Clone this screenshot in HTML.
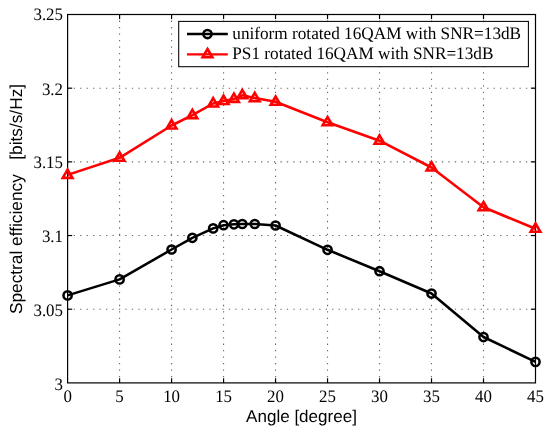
<!DOCTYPE html>
<html><head><meta charset="utf-8"><title>Spectral efficiency vs angle</title>
<style>html,body{margin:0;padding:0;background:#fff;}svg{display:block;text-rendering:geometricPrecision;}
.t{font-family:"Liberation Serif",serif;font-size:17.5px;fill:#000;}
.s{font-family:"Liberation Sans",sans-serif;font-size:17.2px;fill:#000;}
</style></head><body>
<svg width="550" height="432" viewBox="0 0 550 432">
<rect x="0" y="0" width="550" height="432" fill="#fff"/>
<g stroke="#686868" stroke-width="1.1" stroke-dasharray="1.3 5.16" stroke-dashoffset="0.35" fill="none">
<line x1="119.59" y1="14.50" x2="119.59" y2="382.90"/>
<line x1="171.58" y1="14.50" x2="171.58" y2="382.90"/>
<line x1="223.57" y1="14.50" x2="223.57" y2="382.90"/>
<line x1="275.56" y1="14.50" x2="275.56" y2="382.90"/>
<line x1="327.54" y1="14.50" x2="327.54" y2="382.90"/>
<line x1="379.53" y1="14.50" x2="379.53" y2="382.90"/>
<line x1="431.52" y1="14.50" x2="431.52" y2="382.90"/>
<line x1="483.51" y1="14.50" x2="483.51" y2="382.90"/>
<line x1="67.60" y1="309.22" x2="535.50" y2="309.22"/>
<line x1="67.60" y1="235.54" x2="535.50" y2="235.54"/>
<line x1="67.60" y1="161.86" x2="535.50" y2="161.86"/>
<line x1="67.60" y1="88.18" x2="535.50" y2="88.18"/>
</g>
<g stroke="#000" stroke-width="1.2" fill="none">
<rect x="67.60" y="14.50" width="467.90" height="368.40"/>
<line x1="119.59" y1="382.90" x2="119.59" y2="378.30"/>
<line x1="119.59" y1="14.50" x2="119.59" y2="19.10"/>
<line x1="171.58" y1="382.90" x2="171.58" y2="378.30"/>
<line x1="171.58" y1="14.50" x2="171.58" y2="19.10"/>
<line x1="223.57" y1="382.90" x2="223.57" y2="378.30"/>
<line x1="223.57" y1="14.50" x2="223.57" y2="19.10"/>
<line x1="275.56" y1="382.90" x2="275.56" y2="378.30"/>
<line x1="275.56" y1="14.50" x2="275.56" y2="19.10"/>
<line x1="327.54" y1="382.90" x2="327.54" y2="378.30"/>
<line x1="327.54" y1="14.50" x2="327.54" y2="19.10"/>
<line x1="379.53" y1="382.90" x2="379.53" y2="378.30"/>
<line x1="379.53" y1="14.50" x2="379.53" y2="19.10"/>
<line x1="431.52" y1="382.90" x2="431.52" y2="378.30"/>
<line x1="431.52" y1="14.50" x2="431.52" y2="19.10"/>
<line x1="483.51" y1="382.90" x2="483.51" y2="378.30"/>
<line x1="483.51" y1="14.50" x2="483.51" y2="19.10"/>
<line x1="67.60" y1="309.22" x2="72.20" y2="309.22"/>
<line x1="535.50" y1="309.22" x2="530.90" y2="309.22"/>
<line x1="67.60" y1="235.54" x2="72.20" y2="235.54"/>
<line x1="535.50" y1="235.54" x2="530.90" y2="235.54"/>
<line x1="67.60" y1="161.86" x2="72.20" y2="161.86"/>
<line x1="535.50" y1="161.86" x2="530.90" y2="161.86"/>
<line x1="67.60" y1="88.18" x2="72.20" y2="88.18"/>
<line x1="535.50" y1="88.18" x2="530.90" y2="88.18"/>
</g>
<g class="t" text-anchor="middle">
<text transform="translate(67.60,402.4) scale(0.965,1)">0</text>
<text transform="translate(119.59,402.4) scale(0.965,1)">5</text>
<text transform="translate(171.58,402.4) scale(0.965,1)">10</text>
<text transform="translate(223.57,402.4) scale(0.965,1)">15</text>
<text transform="translate(275.56,402.4) scale(0.965,1)">20</text>
<text transform="translate(327.54,402.4) scale(0.965,1)">25</text>
<text transform="translate(379.53,402.4) scale(0.965,1)">30</text>
<text transform="translate(431.52,402.4) scale(0.965,1)">35</text>
<text transform="translate(483.51,402.4) scale(0.965,1)">40</text>
<text transform="translate(535.50,402.4) scale(0.965,1)">45</text>
</g>
<g class="t" text-anchor="end">
<text transform="translate(63.0,389.50) scale(0.965,1)">3</text>
<text transform="translate(63.0,315.72) scale(0.965,1)">3.05</text>
<text transform="translate(63.0,241.54) scale(0.965,1)">3.1</text>
<text transform="translate(63.0,167.86) scale(0.965,1)">3.15</text>
<text transform="translate(63.0,94.58) scale(0.965,1)">3.2</text>
<text transform="translate(63.0,20.30) scale(0.965,1)">3.25</text>
</g>
<text class="s" x="301.5" y="421.8" text-anchor="middle" style="font-size:17.05px">Angle [degree]</text>
<text class="s" style="font-size:17.3px;white-space:pre" transform="translate(22.0,199) rotate(-90)" text-anchor="middle" xml:space="preserve">Spectral efficiency   [bits/s/Hz]</text>
<polyline points="67.60,295.40 119.59,279.40 171.58,249.50 192.37,237.80 213.17,228.40 223.57,225.20 233.96,224.30 242.28,224.00 254.76,224.00 275.56,225.50 327.54,249.80 379.53,271.20 431.52,293.50 483.51,337.00 535.50,361.90" fill="none" stroke="#000" stroke-width="2.55" stroke-linejoin="round"/>
<circle cx="67.60" cy="295.40" r="4.1" fill="none" stroke="#000" stroke-width="2.55"/>
<circle cx="119.59" cy="279.40" r="4.1" fill="none" stroke="#000" stroke-width="2.55"/>
<circle cx="171.58" cy="249.50" r="4.1" fill="none" stroke="#000" stroke-width="2.55"/>
<circle cx="192.37" cy="237.80" r="4.1" fill="none" stroke="#000" stroke-width="2.55"/>
<circle cx="213.17" cy="228.40" r="4.1" fill="none" stroke="#000" stroke-width="2.55"/>
<circle cx="223.57" cy="225.20" r="4.1" fill="none" stroke="#000" stroke-width="2.55"/>
<circle cx="233.96" cy="224.30" r="4.1" fill="none" stroke="#000" stroke-width="2.55"/>
<circle cx="242.28" cy="224.00" r="4.1" fill="none" stroke="#000" stroke-width="2.55"/>
<circle cx="254.76" cy="224.00" r="4.1" fill="none" stroke="#000" stroke-width="2.55"/>
<circle cx="275.56" cy="225.50" r="4.1" fill="none" stroke="#000" stroke-width="2.55"/>
<circle cx="327.54" cy="249.80" r="4.1" fill="none" stroke="#000" stroke-width="2.55"/>
<circle cx="379.53" cy="271.20" r="4.1" fill="none" stroke="#000" stroke-width="2.55"/>
<circle cx="431.52" cy="293.50" r="4.1" fill="none" stroke="#000" stroke-width="2.55"/>
<circle cx="483.51" cy="337.00" r="4.1" fill="none" stroke="#000" stroke-width="2.55"/>
<circle cx="535.50" cy="361.90" r="4.1" fill="none" stroke="#000" stroke-width="2.55"/>
<polyline points="67.60,174.90 119.59,157.80 171.58,125.50 192.37,115.10 213.17,103.50 223.57,101.00 233.96,98.90 242.28,95.30 254.76,98.10 275.56,101.80 327.54,122.30 379.53,140.70 431.52,167.50 483.51,207.30 535.50,228.80" fill="none" stroke="#f00" stroke-width="2.55" stroke-linejoin="round"/>
<path d="M67.60 169.60 L72.45 177.90 L62.75 177.90 Z" fill="none" stroke="#f00" stroke-width="2.6" stroke-linejoin="miter"/>
<path d="M119.59 152.50 L124.44 160.80 L114.74 160.80 Z" fill="none" stroke="#f00" stroke-width="2.6" stroke-linejoin="miter"/>
<path d="M171.58 120.20 L176.43 128.50 L166.73 128.50 Z" fill="none" stroke="#f00" stroke-width="2.6" stroke-linejoin="miter"/>
<path d="M192.37 109.80 L197.22 118.10 L187.52 118.10 Z" fill="none" stroke="#f00" stroke-width="2.6" stroke-linejoin="miter"/>
<path d="M213.17 98.20 L218.02 106.50 L208.32 106.50 Z" fill="none" stroke="#f00" stroke-width="2.6" stroke-linejoin="miter"/>
<path d="M223.57 95.70 L228.42 104.00 L218.72 104.00 Z" fill="none" stroke="#f00" stroke-width="2.6" stroke-linejoin="miter"/>
<path d="M233.96 93.60 L238.81 101.90 L229.11 101.90 Z" fill="none" stroke="#f00" stroke-width="2.6" stroke-linejoin="miter"/>
<path d="M242.28 90.00 L247.13 98.30 L237.43 98.30 Z" fill="none" stroke="#f00" stroke-width="2.6" stroke-linejoin="miter"/>
<path d="M254.76 92.80 L259.61 101.10 L249.91 101.10 Z" fill="none" stroke="#f00" stroke-width="2.6" stroke-linejoin="miter"/>
<path d="M275.56 96.50 L280.41 104.80 L270.71 104.80 Z" fill="none" stroke="#f00" stroke-width="2.6" stroke-linejoin="miter"/>
<path d="M327.54 117.00 L332.39 125.30 L322.69 125.30 Z" fill="none" stroke="#f00" stroke-width="2.6" stroke-linejoin="miter"/>
<path d="M379.53 135.40 L384.38 143.70 L374.68 143.70 Z" fill="none" stroke="#f00" stroke-width="2.6" stroke-linejoin="miter"/>
<path d="M431.52 162.20 L436.37 170.50 L426.67 170.50 Z" fill="none" stroke="#f00" stroke-width="2.6" stroke-linejoin="miter"/>
<path d="M483.51 202.00 L488.36 210.30 L478.66 210.30 Z" fill="none" stroke="#f00" stroke-width="2.6" stroke-linejoin="miter"/>
<path d="M535.50 223.50 L540.35 231.80 L530.65 231.80 Z" fill="none" stroke="#f00" stroke-width="2.6" stroke-linejoin="miter"/>
<rect x="178.7" y="21.4" width="349.7" height="45.3" fill="#fff" stroke="#000" stroke-width="1.05"/>
<line x1="187" y1="34" x2="227.8" y2="34" stroke="#000" stroke-width="2.3"/>
<circle cx="207.50" cy="34.00" r="4.1" fill="none" stroke="#000" stroke-width="2.55"/>
<line x1="187" y1="54.3" x2="227.8" y2="54.3" stroke="#f00" stroke-width="2.3"/>
<path d="M207.50 49.00 L212.35 57.30 L202.65 57.30 Z" fill="none" stroke="#f00" stroke-width="2.6" stroke-linejoin="miter"/>
<text class="t" transform="translate(232.3,39.4) scale(0.983,1)">uniform rotated 16QAM with SNR=13dB</text>
<text class="t" transform="translate(232.3,59.2) scale(0.983,1)">PS1 rotated 16QAM with SNR=13dB</text>
</svg></body></html>
